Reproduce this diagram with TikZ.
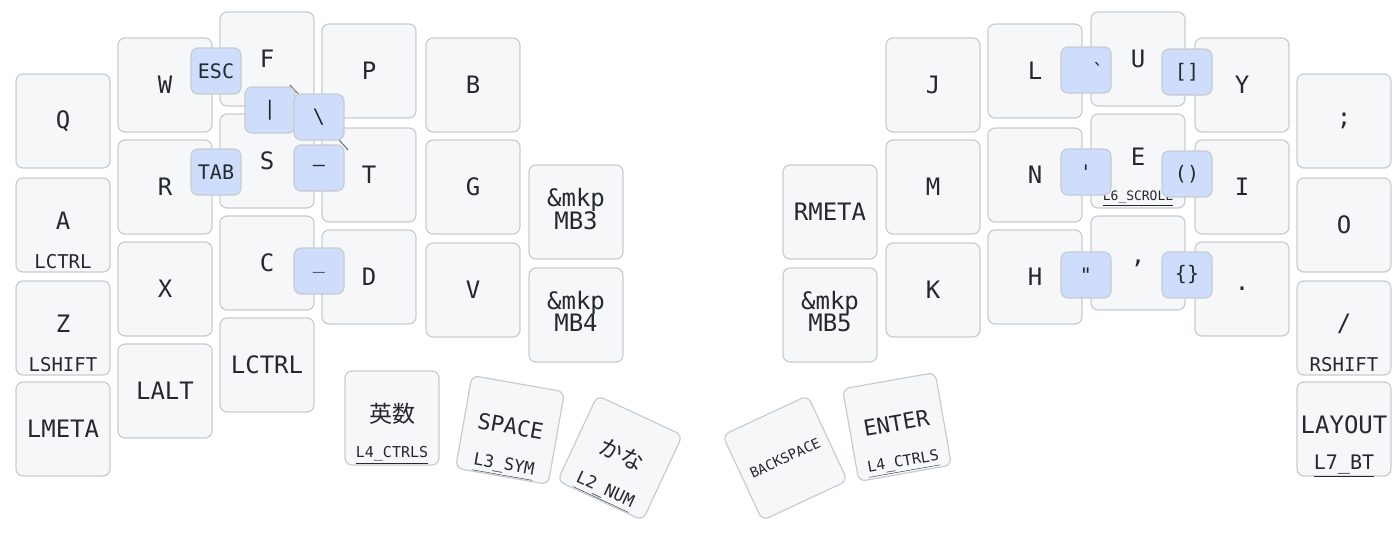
\documentclass[tikz,border=0pt]{standalone}
\usepackage{fontspec}
\setmonofont{DejaVu Sans Mono}
\newfontfamily\cjk{Noto Sans CJK JP}
\definecolor{keyfill}{HTML}{F6F7F9}
\definecolor{keyline}{HTML}{C9CCCF}
\definecolor{combofill}{HTML}{CDDDFB}
\definecolor{txt}{HTML}{24292E}
\tikzset{
  keybox/.style={draw=keyline,fill=keyfill,line width=1.2pt,rounded corners=7pt,minimum width=94pt,minimum height=94pt,inner sep=0pt},
  combobox/.style={draw=keyline,fill=combofill,line width=1.2pt,rounded corners=7pt,minimum width=50pt,minimum height=46pt,inner sep=0pt,text=txt,font=\ttfamily\fontsize{20}{20}\selectfont},
  ktext/.style={text=txt,inner sep=0pt,font=\ttfamily\fontsize{24}{24}\selectfont},
  htext/.style={text=txt,inner sep=0pt},
  combolink/.style={draw=txt!70,line width=1pt}
}
\newcommand{\ul}[1]{\underline{#1}}
\newcommand{\kk}[6][24]{% size, name, x, y, rot, label
  \begin{scope}[shift={(#3,#4)},rotate=#5,transform shape]
    \node[keybox] (#2) at (0,0) {};
    \node[ktext,font=\ttfamily\fontsize{#1}{#1}\selectfont] (#2-t) at (0,0) {#6};
  \end{scope}}
\newcommand{\kh}[8][24]{% size, name, x, y, rot, label, holdsize, hold
  \begin{scope}[shift={(#3,#4)},rotate=#5,transform shape]
    \node[keybox] (#2) at (0,0) {};
    \node[ktext,font=\ttfamily\fontsize{#1}{#1}\selectfont] (#2-t) at (0,-4) {#6};
    \node[htext,font=\ttfamily\fontsize{#7}{#7}\selectfont] (#2-h) at (0,37) {#8};
  \end{scope}}
\begin{document}
\begin{tikzpicture}[x=1pt,y=-1pt]
\useasboundingbox (0,0) rectangle (1400,533);
% left half
\kk{q}{63}{121}{0}{Q}
\kh{a}{63}{225}{0}{A}{19}{LCTRL}
\kh{z}{63}{328}{0}{Z}{19}{LSHIFT}
\kk{lmeta}{63}{429}{0}{LMETA}
\kk{w}{165}{85}{0}{W}
\kk{r}{165}{187}{0}{R}
\kk{x}{165}{289}{0}{X}
\kk{lalt}{165}{391}{0}{LALT}
\kk{f}{267}{59}{0}{F}
\kk{s}{267}{161}{0}{S}
\kk{c}{267}{263}{0}{C}
\kk{lctrl}{267}{365}{0}{LCTRL}
\kk{p}{369}{71}{0}{P}
\kk{t}{369}{175}{0}{T}
\kk{d}{369}{277}{0}{D}
\kk{b}{473}{85}{0}{B}
\kk{g}{473}{187}{0}{G}
\kk{v}{473}{290}{0}{V}
\kk{mbiii}{576}{212}{0}{\begin{tabular}{@{}c@{}}\&mkp\\[-2pt]MB3\end{tabular}}
\kk{mbiv}{576}{315}{0}{\begin{tabular}{@{}c@{}}\&mkp\\[-2pt]MB4\end{tabular}}
% thumbs
\kh[23]{eisu}{392}{418}{0}{\cjk 英数}{15}{\ul{L4\_CTRLS}}
\kh[22]{space}{510}{430}{-10}{SPACE}{17}{\ul{L3\_SYM}}
\kh[23]{kana}{620}{458}{-25}{\cjk かな}{17}{\ul{L2\_NUM}}
\kk[14]{bsp}{785}{458}{25}{BACKSPACE}
\kh[22]{enter}{897}{427}{10}{ENTER}{15}{\ul{L4\_CTRLS}}
% right half
\kk{rmeta}{830}{212}{0}{RMETA}
\kk{mbv}{830}{315}{0}{\begin{tabular}{@{}c@{}}\&mkp\\[-2pt]MB5\end{tabular}}
\kk{j}{933}{85}{0}{J}
\kk{m}{933}{187}{0}{M}
\kk{k}{933}{290}{0}{K}
\kk{l}{1035}{71}{0}{L}
\kk{n}{1035}{175}{0}{N}
\kk{h}{1035}{277}{0}{H}
\kk{u}{1138}{59}{0}{U}
\kh{e}{1138}{161}{0}{E}{13}{\ul{L6\_SCROLL}}
\kk{comma}{1138}{263}{0}{,}
\kk{y}{1242}{85}{0}{Y}
\kk{i}{1242}{187}{0}{I}
\kk{dot}{1242}{289}{0}{.}
\kk{semi}{1344}{121}{0}{;}
\kk{o}{1344}{225}{0}{O}
\kh{slash}{1344}{328}{0}{/}{19}{RSHIFT}
\kh{layout}{1344}{429}{0}{LAYOUT}{20}{\ul{L7\_BT}}
% combos
\coordinate (fcorner) at (290,85);
\coordinate (tcorner) at (348,150);
\draw[combolink] (319,117) -- (fcorner);
\draw[combolink] (319,117) -- (tcorner);
\node[combobox] (cesc) at (216,71) {ESC};
\node[combobox] (ctab) at (216,172) {TAB};
\node[combobox] (cpipe) at (270,110) {|};
\node[combobox] (cbsl) at (319,117) {\textbackslash};
\node[combobox] (cminus) at (319,168) {–};
\node[combobox] (cunder) at (319,271) {\_};
\node[combobox] (cgrave) at (1086,70) {\`{}};
\node[combobox] (cbrk) at (1187,72) {[]};
\node[combobox] (cquote) at (1086,172) {'};
\node[combobox] (cparen) at (1187,174) {()};
\node[combobox] (cdquote) at (1086,275) {"};
\node[combobox] (cbrace) at (1187,275) {\{\}};
\end{tikzpicture}
\end{document}
